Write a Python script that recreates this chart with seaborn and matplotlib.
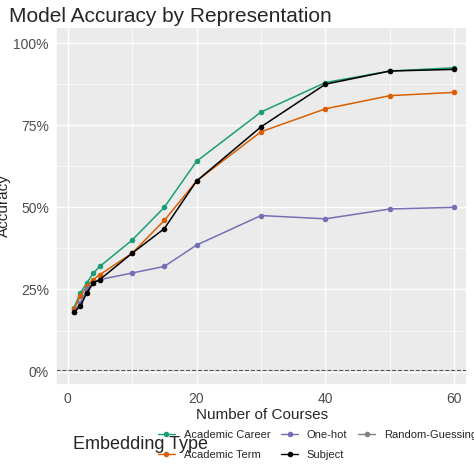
import matplotlib
matplotlib.use("Agg")
import matplotlib.pyplot as plt
import seaborn as sns
import pandas as pd
from matplotlib.lines import Line2D

courses = [1, 2, 3, 4, 5, 10, 15, 20, 30, 40, 50, 60]
academic_career = [19.5, 24, 27, 30, 32, 40, 50, 64, 79, 88, 91.5, 92.5]
academic_term = [19, 23, 26, 28, 29.5, 36, 46, 58, 73, 80, 84, 85]
one_hot = [18, 21, 25, 27, 28, 30, 32, 38.5, 47.5, 46.5, 49.5, 50]
subject = [18, 20, 24, 27, 28, 36, 43.5, 58, 74.5, 87.5, 91.5, 92]
random_guess = 0.6

names = ["Academic Career", "Academic Term", "One-hot", "Subject"]
colors = {"Academic Career": "#1b9e77", "Academic Term": "#d95f02",
          "One-hot": "#7570b3", "Subject": "#000000"}
rows = []
for n, vals in zip(names, [academic_career, academic_term, one_hot, subject]):
    for c, v in zip(courses, vals):
        rows.append({"courses": c, "acc": v / 100, "type": n})
df = pd.DataFrame(rows)

sns.set_theme(style="darkgrid", rc={"axes.facecolor": "#ebebeb", "grid.color": "white"})
plt.rcParams['font.family'] = ['Liberation Sans', 'DejaVu Sans']
fig = plt.figure(figsize=(4.74, 4.68), dpi=100)
ax = fig.add_axes([0.118, 0.178, 0.868, 0.765])
sns.lineplot(data=df, x="courses", y="acc", hue="type", palette=colors,
             marker="o", markersize=4, markeredgewidth=0, linewidth=1.1, ax=ax, legend=False)
ax.axhline(random_guess / 100, color="#555555", linestyle="--", linewidth=0.8)
ax.set_xlim(-1.8, 62)
ax.set_ylim(-0.04, 1.05)
ax.set_xticks([0, 20, 40, 60])
ax.set_yticks([0, 0.25, 0.5, 0.75, 1.0])
ax.set_yticklabels(["0%", "25%", "50%", "75%", "100%"])
ax.set_xticks([10, 30, 50], minor=True)
ax.set_yticks([0.125, 0.375, 0.625, 0.875], minor=True)
ax.grid(which="minor", color="white", linewidth=0.5)
ax.grid(which="major", color="white", linewidth=1.0)
ax.tick_params(labelsize=10, colors="#4d4d4d", length=3, pad=2)
ax.set_xlabel("Number of Courses", fontsize=11, labelpad=2)
ax.set_ylabel("Accuracy", fontsize=11, labelpad=2)
fig.text(0.02, 0.965, "Model Accuracy by Representation", fontsize=15, va="center")

handles = [Line2D([], [], color=colors[n], marker="o", markersize=3, linewidth=1) for n in names]
handles.append(Line2D([], [], color="#808080", marker="o", markersize=3, linewidth=1))
labels = names + ["Random-Guessing"]
leg = fig.legend(handles, labels, loc="center", bbox_to_anchor=(0.67, 0.05), ncol=3,
                 frameon=False, fontsize=8, handlelength=1.5, columnspacing=1.0, labelspacing=0.9)
fig.text(0.155, 0.05, "Embedding Type", fontsize=13, va="center")
fig.savefig("out.png", dpi=100, facecolor="white")
